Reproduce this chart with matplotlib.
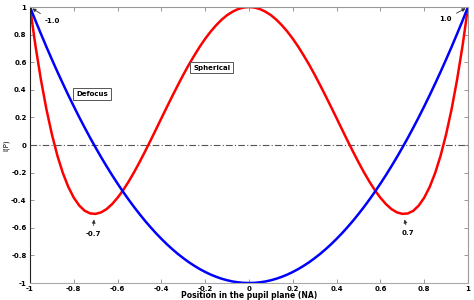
import matplotlib
matplotlib.use("Agg")
import matplotlib.pyplot as plt

# pupil positions for the left half (mirrored for the right half)
x_half = [-1.0, -0.975, -0.95, -0.925, -0.9, -0.875, -0.85, -0.825, -0.8, -0.775, -0.75,
          -0.725, -0.7, -0.675, -0.65, -0.625, -0.6, -0.575, -0.55, -0.525, -0.5,
          -0.475, -0.45, -0.425, -0.4, -0.375, -0.35, -0.325, -0.3, -0.275, -0.25,
          -0.225, -0.2, -0.175, -0.15, -0.125, -0.1, -0.075, -0.05, -0.025, 0.0]
defocus_half = [1.0, 0.901, 0.805, 0.711, 0.62, 0.531, 0.445, 0.361, 0.28, 0.201, 0.125,
                0.051, -0.02, -0.089, -0.155, -0.219, -0.28, -0.339, -0.395, -0.449, -0.5,
                -0.549, -0.595, -0.639, -0.68, -0.719, -0.755, -0.789, -0.82, -0.849, -0.875,
                -0.899, -0.92, -0.939, -0.955, -0.969, -0.98, -0.989, -0.995, -0.999, -1.0]
spherical_half = [1.0, 0.718, 0.472, 0.259, 0.077, -0.077, -0.203, -0.304, -0.382, -0.439, -0.477,
                  -0.496, -0.499, -0.488, -0.464, -0.428, -0.382, -0.328, -0.266, -0.198, -0.125,
                  -0.048, 0.031, 0.112, 0.194, 0.275, 0.355, 0.433, 0.509, 0.581, 0.648,
                  0.712, 0.770, 0.822, 0.868, 0.908, 0.941, 0.966, 0.985, 0.996, 1.0]

x_pos = x_half + [-v for v in x_half[-2::-1]]
defocus = defocus_half + defocus_half[-2::-1]
spherical = spherical_half + spherical_half[-2::-1]

x_ticks = [-1, -0.8, -0.6, -0.4, -0.2, 0, 0.2, 0.4, 0.6, 0.8, 1]
y_ticks = [-1, -0.8, -0.6, -0.4, -0.2, 0, 0.2, 0.4, 0.6, 0.8, 1]

fig = plt.figure(figsize=(4.74, 3.0), dpi=100)
ax = fig.add_axes([30/474, 17/300, 438/474, 276/300])

ax.axhline(0, color="#555555", lw=0.8, ls=(0, (6, 2, 1, 2)))
ax.plot(x_pos, spherical, color="#ff0000", lw=1.8)
ax.plot(x_pos, defocus, color="#0000ff", lw=1.8)

ax.set_xlim(-1, 1)
ax.set_ylim(-1, 1)
ax.set_xticks(x_ticks)
ax.set_yticks(y_ticks)
ax.set_xticklabels([f"{t:g}" for t in x_ticks], fontsize=5, fontweight="bold")
ax.set_yticklabels([f"{t:g}" for t in y_ticks], fontsize=5, fontweight="bold")
ax.tick_params(direction="in", length=3, width=0.6, top=True, right=True, color="#888888")
ax.tick_params(axis="x", pad=2.0)
ax.tick_params(axis="y", pad=2.5)
for s in ax.spines.values():
    s.set_color("#999999")
    s.set_linewidth(0.8)
ax.spines["left"].set_color("#222222")
ax.spines["bottom"].set_color("#aaaaaa")

ax.set_xlabel("Position in the pupil plane (NA)", fontsize=5.5, fontweight="bold", labelpad=-0.5)
ax.set_ylabel("I(P)", fontsize=5, labelpad=1)

bbox = dict(boxstyle="square,pad=0.4", fc="white", ec="#555555", lw=0.7)
ax.text(-0.717, 0.37, "Defocus", fontsize=5, fontweight="bold", ha="center", va="center", bbox=bbox)
ax.text(-0.17, 0.56, "Spherical", fontsize=5, fontweight="bold", ha="center", va="center", bbox=bbox)

ap = dict(arrowstyle="-|>", color="#333333", lw=0.6, mutation_scale=5)
ax.annotate("-1.0", xy=(-1, 1), xytext=(-0.9, 0.9), fontsize=5, fontweight="bold",
            ha="center", va="center", arrowprops=ap)
ax.annotate("1.0", xy=(1, 1), xytext=(0.895, 0.91), fontsize=5, fontweight="bold",
            ha="center", va="center", arrowprops=ap)
ax.annotate("-0.7", xy=(-0.707, -0.52), xytext=(-0.712, -0.645), fontsize=5, fontweight="bold",
            ha="center", va="center", arrowprops=ap)
ax.annotate("0.7", xy=(0.707, -0.52), xytext=(0.726, -0.64), fontsize=5, fontweight="bold",
            ha="center", va="center", arrowprops=ap)

fig.savefig("out.png", dpi=100)
